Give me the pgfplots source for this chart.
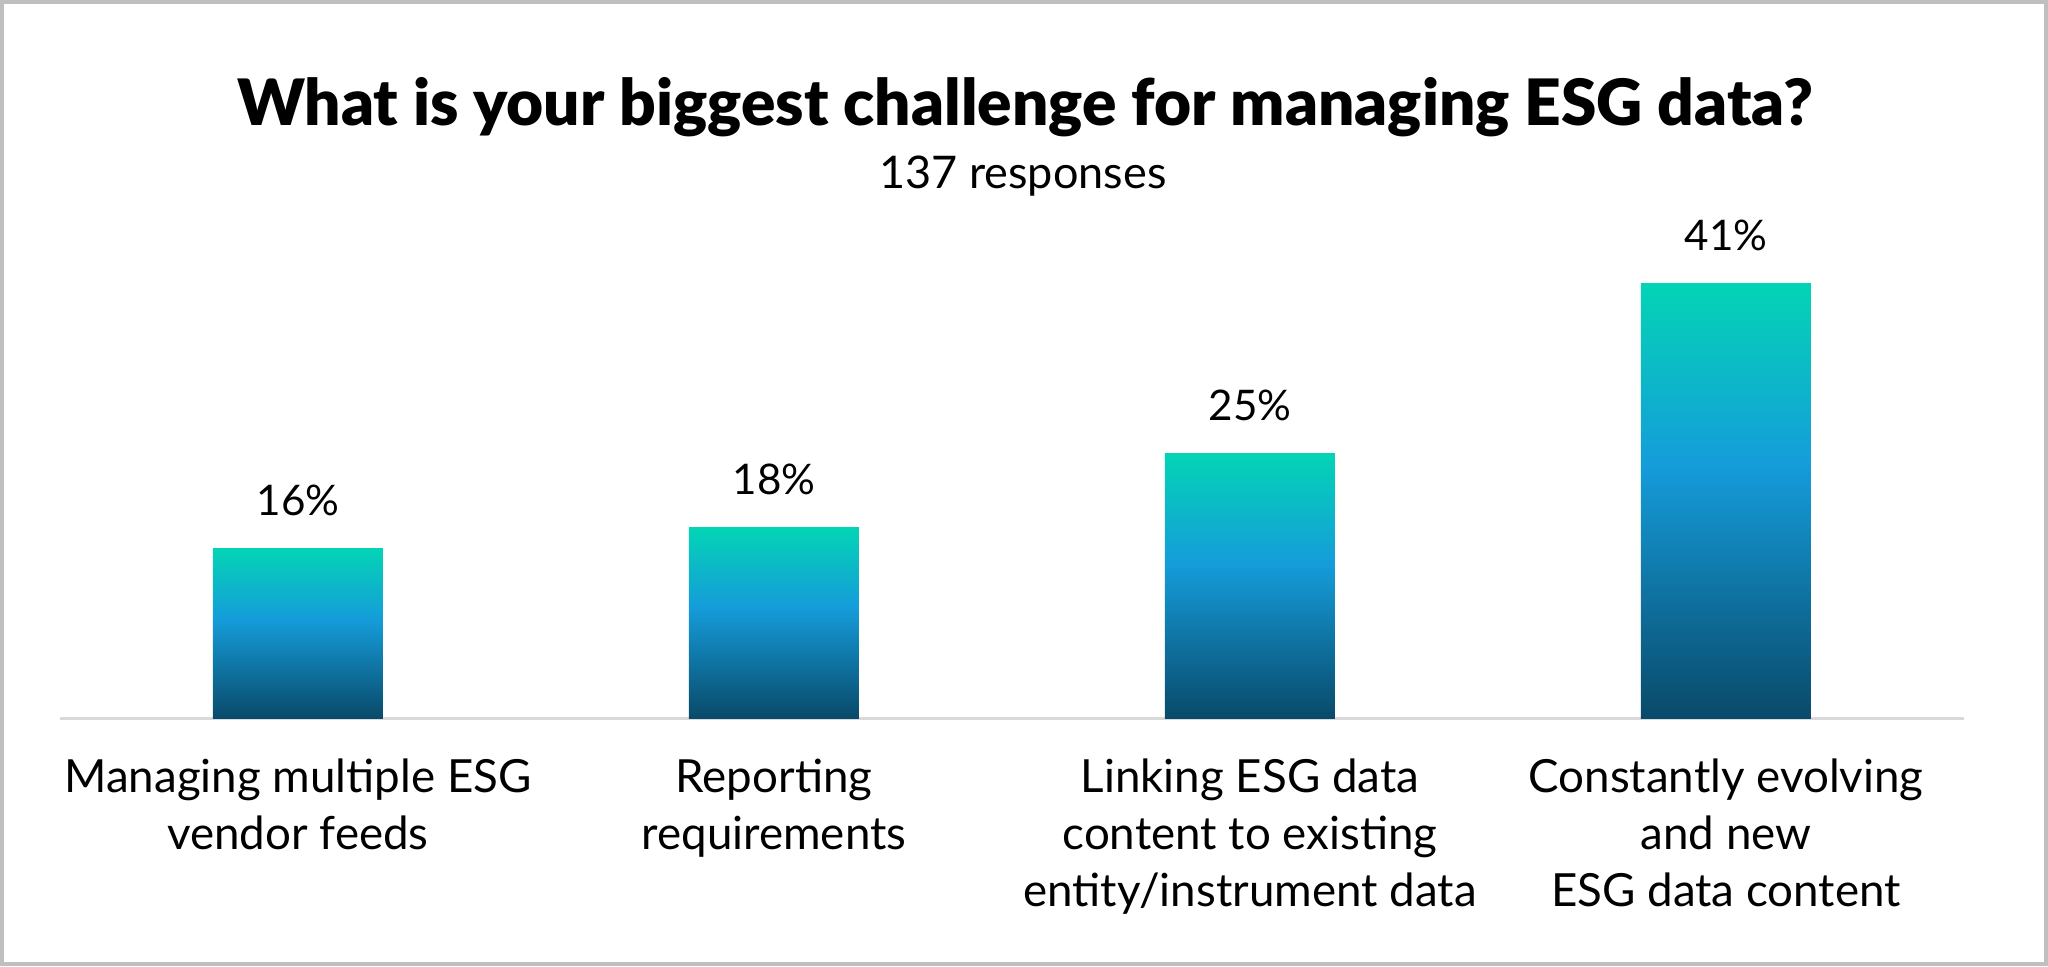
\documentclass[border=0pt]{standalone}
\usepackage{fontspec}
\setmainfont{Lato}
\newfontfamily\titlefont{Lato Black}
\usepackage{pgfplots}
\pgfplotsset{compat=1.18}
\definecolor{esgteal}{RGB}{3,212,181}
\definecolor{esgblue}{RGB}{21,156,218}
\definecolor{esgdark}{RGB}{9,74,106}
\definecolor{framegray}{RGB}{191,191,191}
\definecolor{axisgray}{RGB}{217,217,217}
\pgfdeclareverticalshading{esgbar}{100bp}{color(0bp)=(esgdark); color(25bp)=(esgdark); color(54bp)=(esgblue); color(75bp)=(esgteal); color(100bp)=(esgteal)}
\begin{document}
\begin{tikzpicture}
\path[use as bounding box] (-6mm,-24.8mm) rectangle (198.8mm,71.8mm);
\draw[framegray, line width=0.4mm] (-5.8mm,-24.6mm) rectangle (198.6mm,71.6mm);
\begin{axis}[
  scale only axis, width=190.4mm, height=53mm,
  xmin=-0.5, xmax=3.5, ymin=0, ymax=50,
  axis x line*=bottom, axis y line=none,
  x axis line style={draw=axisgray, line width=0.3mm, -},
  xtick={0,1,2,3}, xtick style={draw=none}, ytick=\empty,
  xticklabels={Managing multiple ESG\\vendor feeds, Reporting\\requirements, Linking ESG data\\content to existing\\entity/instrument data, Constantly evolving\\and new\\ESG data content},
  xticklabel style={align=center, font=\fontsize{13}{16.2}\selectfont, inner sep=0pt, anchor=north, yshift=-2.5mm},
  ybar, bar width=17mm, bar shift=0pt,
  clip=false,
  nodes near coords, point meta=explicit symbolic,
  every node near coord/.append style={font=\fontsize{12}{14}\selectfont, text=black, anchor=base, inner sep=0pt, yshift=3.3mm},
  every axis plot/.append style={draw=none, shade, shading=esgbar},
]
% one plot per bar, so that each bar gets its own gradient
\addplot coordinates {(0,16) [16\%]};
\addplot coordinates {(1,18) [18\%]};
\addplot coordinates {(2,25) [25\%]};
\addplot coordinates {(3,41) [41\%]};
\end{axis}
\node[anchor=base, font=\titlefont\fontsize{18.2}{21}\selectfont] at (96.5mm,59.3mm) {What is your biggest challenge for managing ESG data?};
\node[anchor=base, font=\fontsize{12.8}{15}\selectfont] at (96.3mm,53mm) {137 responses};
\end{tikzpicture}
\end{document}
